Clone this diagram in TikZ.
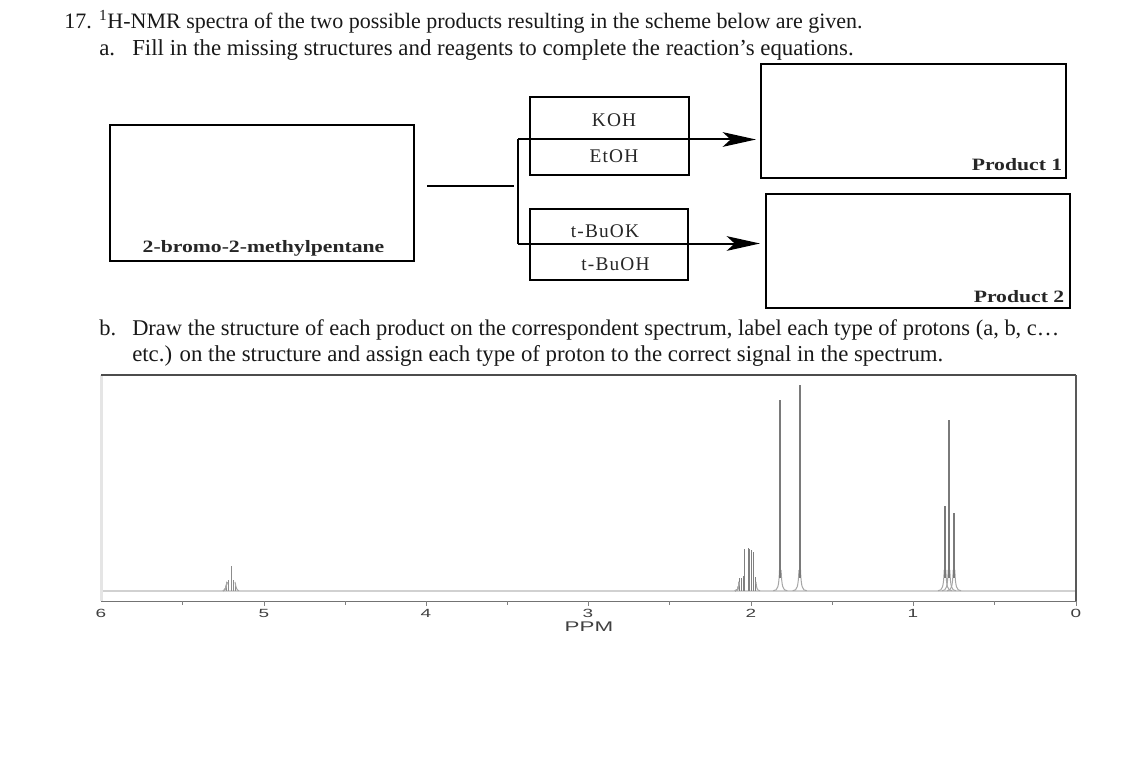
\documentclass[tikz,border=0pt]{standalone}
\usepackage{fontspec}
\usetikzlibrary{arrows.meta,fit}
\setmainfont{Liberation Serif}
\newfontfamily\labelfont[LetterSpace=6]{Liberation Serif}
\newfontfamily\boldlabelfont[FakeStretch=1.25,LetterSpace=0]{Liberation Serif Bold}
\newfontfamily\axisfont[FakeStretch=1.6]{Liberation Sans}
\definecolor{ink}{gray}{0.1}
\definecolor{soft}{gray}{0.15}
\tikzset{
  x=0.75pt,y=-0.75pt,
  line/.style={anchor=base west,inner sep=0pt,font=\fontsize{17.15}{19}\selectfont,text=ink},
  answerbox/.style={draw=black,line width=1.5pt,inner sep=0pt,fill=none},
  reagent/.style={anchor=base,inner sep=0pt,font=\labelfont\fontsize{14.5}{16}\selectfont,text=soft},
  boxlabel/.style={anchor=base,inner sep=0pt,font=\boldlabelfont\fontsize{13}{15}\selectfont,text=soft},
  conn/.style={line width=1.5pt,draw=black},
  tipped/.style={conn,-{Stealth[length=25pt,width=11pt,inset=6pt]}},
  axisnum/.style={anchor=base,inner sep=0pt,font=\axisfont\fontsize{8.9}{10}\selectfont,text=black!75},
  baselinetrace/.style={line width=1.1pt,draw=black!18},
  frameline/.style={line width=0.9pt,draw=black!65},
  axisline/.style={line width=0.7pt,draw=black!55},
  tickmark/.style={line width=0.6pt,draw=black!50},
  peakline/.style={line width=1.3pt,draw=black!52},
  peakfoot/.style={line width=0.75pt,draw=black!35},
}
\newcommand{\peakat}[2]{%
  \draw[peakfoot] (#1-7,590.7) .. controls (#1-2.5,590.7) and (#1-1.5,587) .. (#1-0.8,570);
  \draw[peakfoot] (#1+7,590.7) .. controls (#1+2.5,590.7) and (#1+1.5,587) .. (#1+0.8,570);
  \draw[peakline] (#1,#2) -- (#1,578);
}
\newcommand{\smallpeak}[2]{\draw[line width=0.7pt,draw=black!50] (#1,590.7) -- (#1,#2);}
\newcommand{\tinypeak}[2]{\draw[line width=0.45pt,draw=black!45] (#1,590.7) -- (#1,#2);}
\begin{document}
\begin{tikzpicture}
\useasboundingbox (0,0) rectangle (1144,781);
\fill[white] (0,0) rectangle (1144,781);

% text
\node[line,font=\fontsize{16.5}{19}\selectfont] (t1) at (64,29) {17. \textsuperscript{1}H-NMR spectra of the two possible products resulting in the scheme below are given.};
\node[line] (t2a) at (99,56) {a.};
\node[line] (t2) at (132,56) {Fill in the missing structures and reagents to complete the reaction’s equations.};
\node[line,font=\fontsize{16.85}{19}\selectfont] (t3a) at (99,335) {b.};
\node[line,font=\fontsize{16.85}{19}\selectfont] (t3) at (132,335) {Draw the structure of each product on the correspondent spectrum, label each type of protons (a, b, c\ldots};
\node[line,font=\fontsize{17.1}{19}\selectfont] (t4) at (132,361) {etc.) on the structure and assign each type of proton to the correct signal in the spectrum.};

% boxes
\coordinate (s1) at (110,125); \coordinate (s2) at (414,261);
\coordinate (p1a) at (761,64); \coordinate (p1b) at (1066,178);
\coordinate (p2a) at (766,194); \coordinate (p2b) at (1070,308);
\coordinate (r1a) at (530,97); \coordinate (r1b) at (689,175);
\coordinate (r2a) at (529.5,209); \coordinate (r2b) at (688,280);
\node[answerbox,fit=(s1)(s2)] (start) {};
\node[answerbox,fit=(p1a)(p1b)] (prod1) {};
\node[answerbox,fit=(p2a)(p2b)] (prod2) {};
\node[answerbox,fit=(r1a)(r1b)] (reag1) {};
\node[answerbox,fit=(r2a)(r2b)] (reag2) {};

\node[boxlabel] (lstart) at (263.5,252) {2-bromo-2-methylpentane};
\node[boxlabel] (lp1) at (1017,170.5) {Product 1};
\node[boxlabel] (lp2) at (1019,302.5) {Product 2};
\node[reagent] (koh) at (614,127) {KOH};
\node[reagent] (etoh) at (614,162) {EtOH};
\node[reagent] (tbuok) at (605,237) {t-BuOK};
\node[reagent] (tbuoh) at (615.5,270) {t-BuOH};

% connectors
\coordinate (stemA) at (427,186);
\coordinate (stemB) at (514,186);
\coordinate (forkT) at (518,139.5);
\coordinate (forkB) at (518,243.5);
\coordinate (tip1) at (756,139.5);
\coordinate (tip2) at (760,243.5);
\draw[conn] (stemA) -- (stemB);
\draw[conn] (forkB) -- (forkT);
\draw[tipped] (forkT) -- (tip1);
\draw[tipped] (forkB) -- (tip2);

% spectrum
\draw[baselinetrace] (101,591) -- (1076,591);
\draw[line width=2pt,draw=black!10] (101.5,375) -- (101.5,601);
\draw[line width=1.1pt,draw=black!70] (101,375) -- (1076,375);
\draw[frameline] (1076,375) -- (1076,601);
\draw[axisline] (101,601) -- (1076,601);
\foreach \px/\len in {182.5/4,264/5,345/4,426.5/5,507.5/4,588.5/5,669.5/4,751/5,832/4,913/5,994/4,1076/5}
  \draw[tickmark] (\px,601) -- (\px,601+\len);
\node[axisnum] (n6) at (101,617) {6};
\node[axisnum] (n5) at (264,617) {5};
\node[axisnum] (n4) at (426,617) {4};
\node[axisnum] (n3) at (588,617) {3};
\node[axisnum] (n2) at (751,617) {2};
\node[axisnum] (n1) at (913,617) {1};
\node[axisnum] (n0) at (1076,617) {0};
\node[axisnum,font=\axisfont\fontsize{10.5}{12}\selectfont] (ppm) at (589,631) {PPM};

% peaks
\peakat{780.3}{400}
\peakat{799.7}{385}
\peakat{949}{420}
\peakat{945}{506}
\peakat{954}{513}
\foreach \px/\ty in {739.5/578,741/578,743/576,744.5/549,748/548,749.5/549,751.7/550,753/552,755.7/577}
  \smallpeak{\px}{\ty}
\draw[peakfoot] (735,590.7) .. controls (738,590.7) and (738.5,588) .. (739,582);
\draw[peakfoot] (760,590.7) .. controls (757,590.7) and (756.5,588) .. (756,582);
\foreach \px/\ty in {226.5/584,228.5/580,231/566,233/580,235.5/584}
  \tinypeak{\px}{\ty}
\draw[peakfoot] (223,590.7) .. controls (225,590.7) and (226,588) .. (227,582);
\draw[peakfoot] (239,590.7) .. controls (237,590.7) and (236,588) .. (235,582);
\end{tikzpicture}
\end{document}
